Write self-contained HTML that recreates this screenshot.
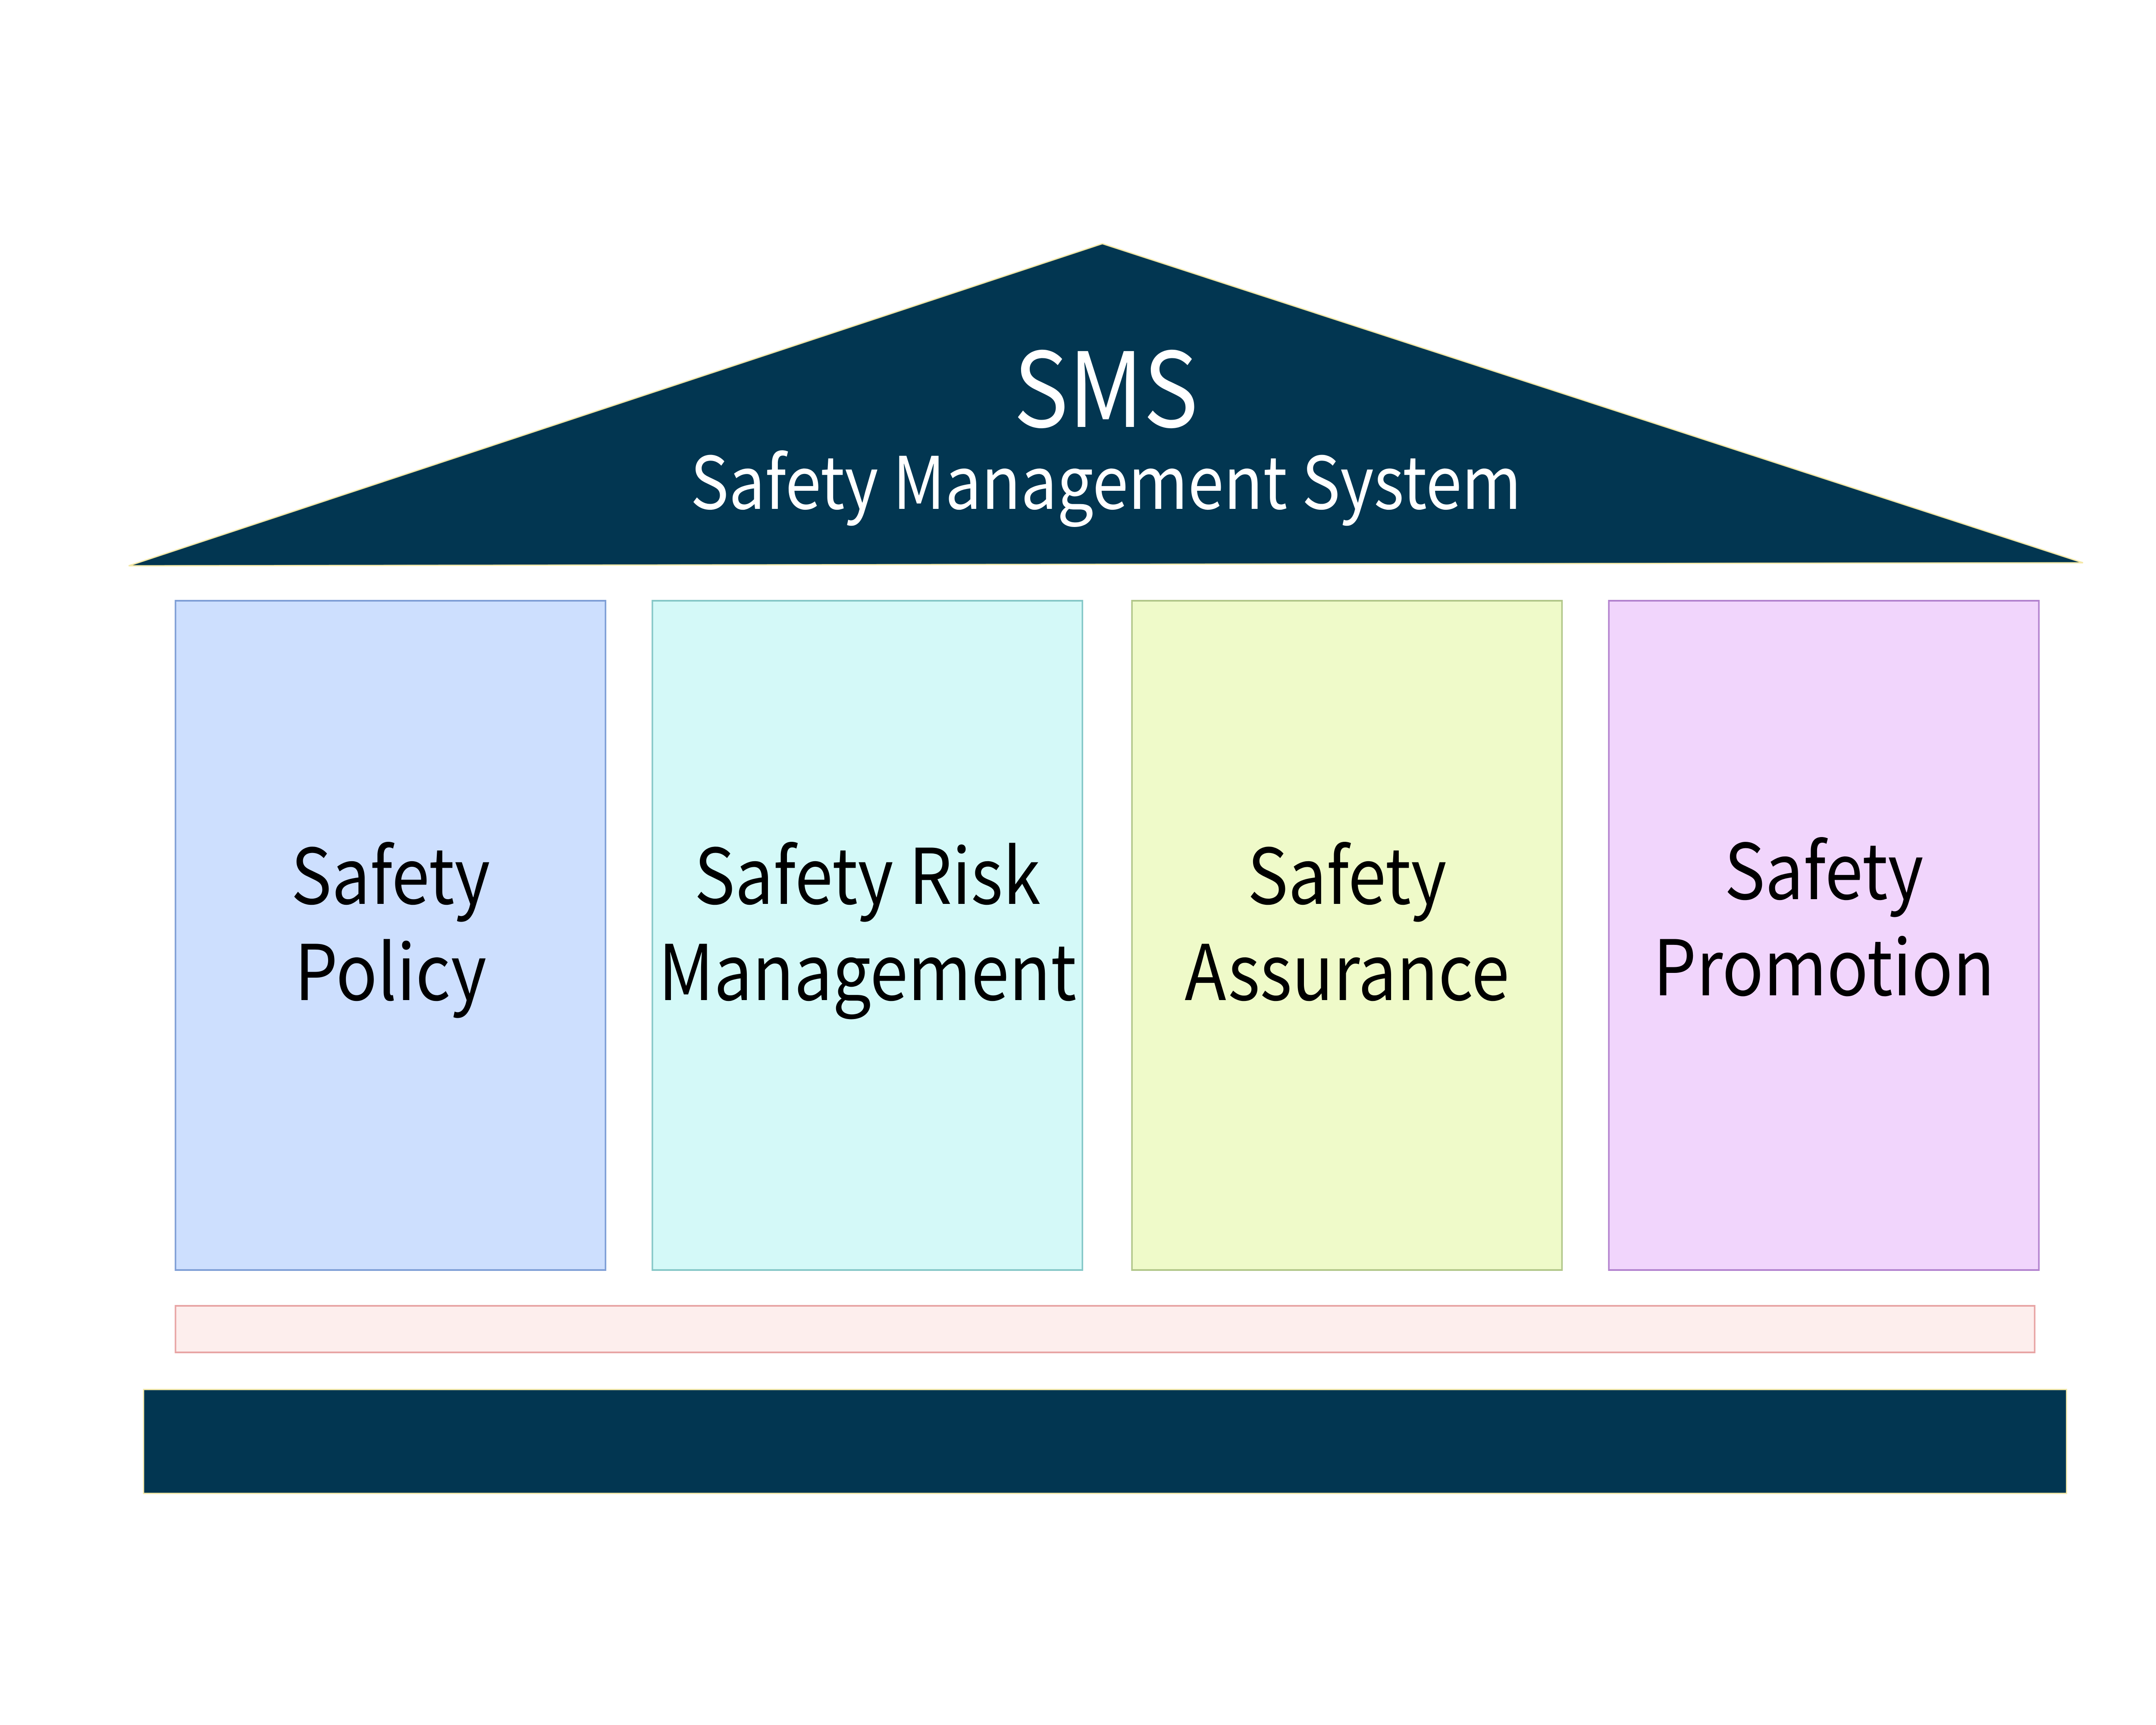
<!DOCTYPE html>
<html><head><meta charset="utf-8"><style>
html,body{margin:0;padding:0;background:#fff;overflow:hidden;width:100%;height:100%;}
svg{display:block;width:100vw;height:100vh;}
text{font-family:"Noto Sans CJK JP","Liberation Sans",sans-serif;}
</style></head><body>
<svg viewBox="0 0 5615 4000" preserveAspectRatio="none" xmlns="http://www.w3.org/2000/svg">
<rect width="5615" height="4000" fill="#fff"/>
<polygon points="2871,565 5425,1305 335,1312" fill="#023651" stroke="#f5e9a8" stroke-width="3"/>
<text x="2880" y="990" font-size="240" fill="#fff" text-anchor="middle">SMS</text>
<text x="2880" y="1180" font-size="168" fill="#fff" text-anchor="middle">Safety Management System</text>

<rect x="457" y="1393" width="1120" height="1552" fill="#cddffe" stroke="#7f9fd6" stroke-width="4"/>
<rect x="1699" y="1393" width="1120" height="1552" fill="#d4f9f8" stroke="#86c8c8" stroke-width="4"/>
<rect x="2948" y="1393" width="1120" height="1552" fill="#effac9" stroke="#b2c78a" stroke-width="4"/>
<rect x="4190" y="1393" width="1120" height="1552" fill="#f1d5fc" stroke="#b383cf" stroke-width="4"/>

<g font-size="178" fill="#000" text-anchor="middle">
<text x="1017" y="2096">Safety</text><text x="1017" y="2319">Policy</text>
<text x="2259" y="2096">Safety Risk</text><text x="2259" y="2319">Management</text>
<text x="3508" y="2096">Safety</text><text x="3508" y="2319">Assurance</text>
<text x="4750" y="2085">Safety</text><text x="4750" y="2308">Promotion</text>
</g>

<rect x="457" y="3028" width="4842" height="108" fill="#fdeeed" stroke="#e8a5a5" stroke-width="4"/>
<rect x="374" y="3222" width="5008" height="241" fill="#023651" stroke="#f5e9a8" stroke-width="3"/>
</svg>
</body></html>
